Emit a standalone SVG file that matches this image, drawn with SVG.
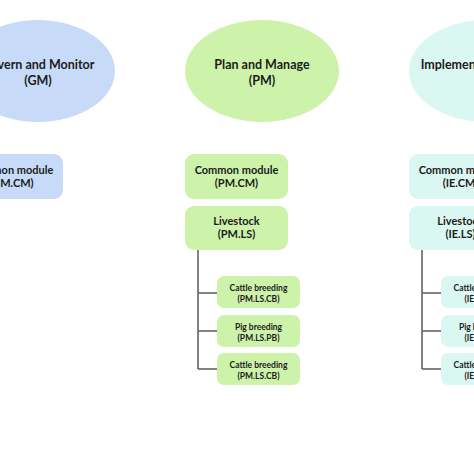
<svg xmlns="http://www.w3.org/2000/svg" width="474" height="474" viewBox="0 0 474 474">
  <style>
    .t { font-family: Lato, "Open Sans", "Liberation Sans", sans-serif; font-weight: bold; fill: #1c1c1c; text-anchor: middle; }
    .big { font-size: 12.5px; }
    .mid { font-size: 11px; }
    .sm { font-size: 8.5px; }
    .gm { fill: #c7dbf8; }
    .pm { fill: #cdf2aa; }
    .ie { fill: #dbf7f1; }
    .conn { stroke: #5a5a5a; stroke-width: 1.5; fill: none; }
  </style>
  <rect width="474" height="474" fill="#ffffff"/>

  <g id="connectors">
    <path class="conn" d="M198 250 V369 M198 293 H217 M198 331 H217 M198 369 H217"/>
    <path class="conn" d="M422 250 V369 M422 293 H441 M422 331 H441 M422 369 H441"/>
  </g>

  <g id="GM">
    <ellipse class="gm" cx="38" cy="71" rx="77" ry="51"/>
    <text class="t big" x="38" y="68.5">Govern and Monitor</text>
    <text class="t big" x="38" y="84.5">(GM)</text>
  </g>
  <g id="GM.CM">
    <rect class="gm" x="-40" y="154" width="103" height="45" rx="9"/>
    <text class="t mid" x="11.5" y="174">Common module</text>
    <text class="t mid" x="11.5" y="187">(GM.CM)</text>
  </g>

  <g id="PM">
    <ellipse class="pm" cx="262" cy="71" rx="77" ry="51"/>
    <text class="t big" x="262" y="68.5">Plan and Manage</text>
    <text class="t big" x="262" y="84.5">(PM)</text>
  </g>
  <g id="PM.CM">
    <rect class="pm" x="185" y="154" width="103" height="45" rx="9"/>
    <text class="t mid" x="236.5" y="174">Common module</text>
    <text class="t mid" x="236.5" y="187">(PM.CM)</text>
  </g>
  <g id="PM.LS">
    <rect class="pm" x="185" y="206" width="103" height="44" rx="9"/>
    <text class="t mid" x="236.5" y="225">Livestock</text>
    <text class="t mid" x="236.5" y="238">(PM.LS)</text>
  </g>
  <g id="PM.LS.CB1">
    <rect class="pm" x="217" y="276" width="83" height="32" rx="7"/>
    <text class="t sm" x="258.5" y="290.5">Cattle breeding</text>
    <text class="t sm" x="258.5" y="301.5">(PM.LS.CB)</text>
  </g>
  <g id="PM.LS.PB">
    <rect class="pm" x="217" y="315" width="83" height="32" rx="7"/>
    <text class="t sm" x="258.5" y="329.5">Pig breeding</text>
    <text class="t sm" x="258.5" y="340.5">(PM.LS.PB)</text>
  </g>
  <g id="PM.LS.CB2">
    <rect class="pm" x="217" y="353" width="83" height="32" rx="7"/>
    <text class="t sm" x="258.5" y="367.5">Cattle breeding</text>
    <text class="t sm" x="258.5" y="378.5">(PM.LS.CB)</text>
  </g>

  <g id="IE">
    <ellipse class="ie" cx="486" cy="71" rx="77" ry="51"/>
    <text class="t big" x="486" y="68.5">Implement and Execute</text>
    <text class="t big" x="486" y="84.5">(IE)</text>
  </g>
  <g id="IE.CM">
    <rect class="ie" x="409" y="154" width="103" height="45" rx="9"/>
    <text class="t mid" x="460.5" y="174">Common module</text>
    <text class="t mid" x="460.5" y="187">(IE.CM)</text>
  </g>
  <g id="IE.LS">
    <rect class="ie" x="409" y="206" width="103" height="44" rx="9"/>
    <text class="t mid" x="460.5" y="225">Livestock</text>
    <text class="t mid" x="460.5" y="238">(IE.LS)</text>
  </g>
  <g id="IE.LS.CB1">
    <rect class="ie" x="441" y="276" width="83" height="32" rx="7"/>
    <text class="t sm" x="482.5" y="290.5">Cattle breeding</text>
    <text class="t sm" x="482.5" y="301.5">(IE.LS.CB)</text>
  </g>
  <g id="IE.LS.PB">
    <rect class="ie" x="441" y="315" width="83" height="32" rx="7"/>
    <text class="t sm" x="482.5" y="329.5">Pig breeding</text>
    <text class="t sm" x="482.5" y="340.5">(IE.LS.PB)</text>
  </g>
  <g id="IE.LS.CB2">
    <rect class="ie" x="441" y="353" width="83" height="32" rx="7"/>
    <text class="t sm" x="482.5" y="367.5">Cattle breeding</text>
    <text class="t sm" x="482.5" y="378.5">(IE.LS.CB)</text>
  </g>
</svg>
